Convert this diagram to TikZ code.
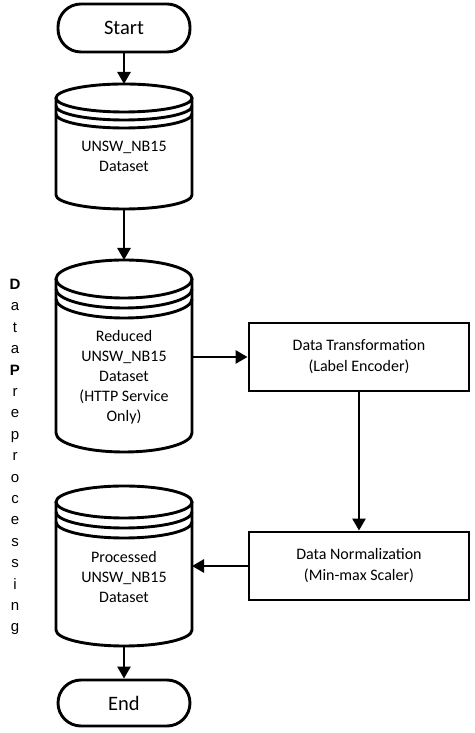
\documentclass[tikz,border=0pt]{standalone}
\usepackage{fontspec}
\setmainfont{Carlito}
\newfontfamily\arialf{Liberation Sans}
\usetikzlibrary{arrows.meta}
\tikzset{
  outl/.style={line width=2.9pt},
  term/.style={outl, draw, fill=white, rounded corners=23pt, minimum width=132pt, inner sep=0pt, font=\fontsize{20.5}{24}\selectfont},
  procbox/.style={outl, draw, fill=white, minimum width=220pt, minimum height=68pt, inner sep=0pt, align=center, font=\fontsize{16}{21}\selectfont},
  cylnode/.style={minimum width=136pt, inner sep=0pt, outer sep=0pt},
  cyltxt/.style={align=center, inner sep=0pt, font=\fontsize{16}{20}\selectfont},
  conn/.style={line width=2.7pt, -{Triangle[length=12pt,width=13pt]}},
}
\newcommand\drawcyl[5]{%
  \draw[outl, fill=white] ({#1-68},{#2}) -- ({#1-68},{#3}) arc[start angle=180, end angle=360, x radius=68, y radius=#4] -- ({#1+68},{#2});
  \draw[outl] (#1,#2) ellipse [x radius=68, y radius=#4];
  \draw[outl] ({#1-68},{#2-#5}) arc[start angle=180, end angle=360, x radius=68, y radius=#4];
  \draw[outl] ({#1-68},{#2-2*#5}) arc[start angle=180, end angle=360, x radius=68, y radius=#4];
}
\begin{document}
\begin{tikzpicture}[x=1pt,y=1pt]
\useasboundingbox (0,0) rectangle (474,733);
% terminals
\node[term, minimum height=48pt] (start) at (124,705) {Start};
\node[term, minimum height=46pt] (end) at (124,30) {End};
% cylinders
\drawcyl{124}{635}{538}{14}{8}
\node[cylnode, minimum height=125pt] (c1) at (124,586.5) {};
\node[cyltxt] (c1t) at (124,577) {UNSW\_NB15\\Dataset};
\drawcyl{124}{454}{300}{19}{10}
\node[cylnode, minimum height=192pt] (c2) at (124,377) {};
\node[cyltxt] (c2t) at (124,356) {Reduced\\UNSW\_NB15\\Dataset\\(HTTP Service\\Only)};
\drawcyl{124}{231}{103}{16}{10}
\node[cylnode, minimum height=160pt] (c3) at (124,167) {};
\node[cyltxt] (c3t) at (124,156) {Processed\\UNSW\_NB15\\Dataset};
% process boxes
\node[procbox] (b1) at (359,376) {Data Transformation\\(Label Encoder)};
\node[procbox] (b2) at (359,167) {Data Normalization\\(Min-max Scaler)};
% connectors
\draw[conn] (start.south) -- (c1.north);
\draw[conn] (c1.south) -- (c2.north);
\draw[conn] (b1.west -| c2.east) -- (b1.west);
\draw[conn] (b1.south) -- (b2.north);
\draw[conn] (b2.west) -- (b2.west -| c3.east);
\draw[conn] (c3.south) -- (end.north);
% side label
\node[align=center, inner sep=0pt, font=\arialf\fontsize{15}{21.4}\selectfont] (side) at (15,276)
 {\textbf{D}\\a\\t\\a\\\textbf{P}\\r\\e\\p\\r\\o\\c\\e\\s\\s\\i\\n\\g};
\end{tikzpicture}
\end{document}
